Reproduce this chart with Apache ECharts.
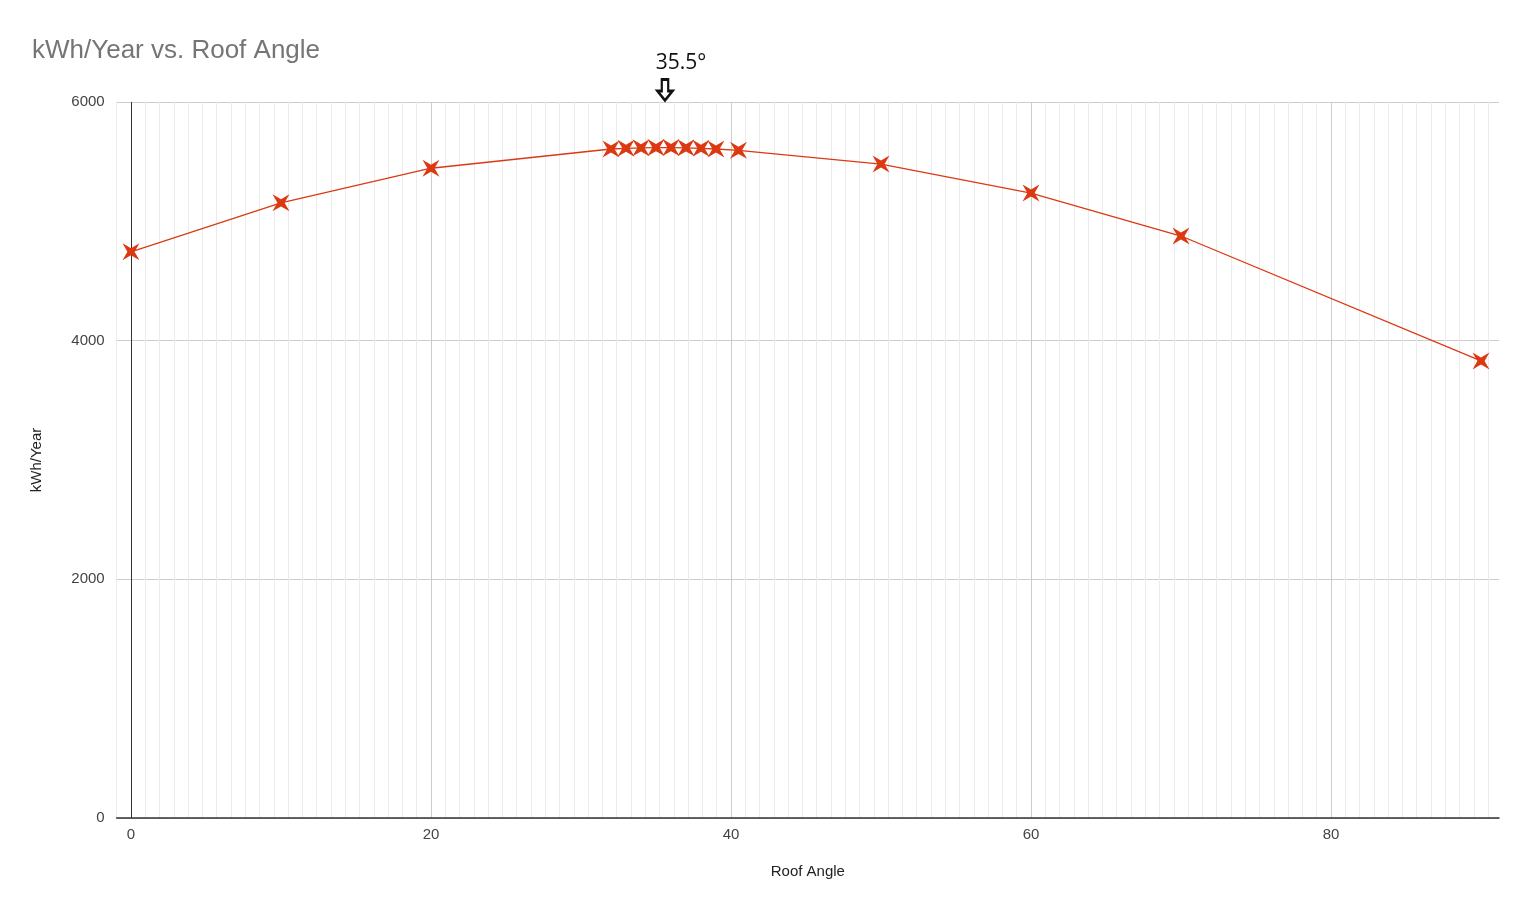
<!DOCTYPE html>
<html>
<head>
<meta charset="utf-8">
<script src="https://cdn.jsdelivr.net/npm/echarts@6/dist/echarts.min.js"></script>
<style>html,body{margin:0;padding:0;background:#fff;}#c{width:1536px;height:910px;}</style>
</head>
<body>
<div id="c"></div>
<script>
// Data
const roofAngle = [0, 10, 20, 32, 33, 34, 35, 36, 37, 38, 39, 40.5, 50, 60, 70, 90];
const kwhPerYear = [4745, 5155, 5445, 5606, 5612, 5616, 5618, 5618, 5616, 5612, 5606, 5595, 5480, 5237, 4877, 3830];
const yTicks = [0, 2000, 4000, 6000];
const xTickLabels = [0, 20, 40, 60, 80];
const annotX = [35.6];
const annotY = [6000];
const annotText = ['35.5°'];

// gridline scale: 21 minor steps per 20 degrees
const MINOR_PER_MAJOR = 21;
const DEG_PER_MAJOR = 20;
const uMin = -1, uMax = 95.76;
const xMin = uMin * DEG_PER_MAJOR / MINOR_PER_MAJOR;
const xMax = uMax * DEG_PER_MAJOR / MINOR_PER_MAJOR;

const lineColors = [];
for (let i = 0; i < 105; i++) {
  const u = i - 1;
  if (u === 0) lineColors.push('#333333');
  else if (u % MINOR_PER_MAJOR === 0) lineColors.push('#cccccc');
  else lineColors.push('#ebebeb');
}

const FONT = '"Liberation Sans", Arial, sans-serif';
const starPath = 'path://M0,0 L5,2.9 L10,0 L7.1,5 L10,10 L5,7.1 L0,10 L2.9,5 Z';
const arrowPath = 'path://M4,0 L10,0 L10,11 L14,11 L7,20 L0,11 L4,11 Z';

const chart = echarts.init(document.getElementById('c'));
chart.setOption({
  animation: false,
  backgroundColor: '#ffffff',
  title: {
    text: 'kWh/Year vs. Roof Angle',
    left: 32, top: 38, padding: 0,
    textStyle: { fontFamily: FONT, fontSize: 26, fontWeight: 'normal', color: '#757575' }
  },
  grid: { left: 116.7, right: 37, top: 102, bottom: 92, containLabel: false },
  xAxis: [
    {
      type: 'value', min: uMin, max: uMax, interval: 1,
      name: 'Roof Angle', nameLocation: 'middle', nameGap: 46,
      nameTextStyle: { fontFamily: FONT, fontSize: 15, color: '#222' },
      axisLine: { show: true, onZero: false, lineStyle: { color: '#333', width: 1.5 } },
      axisTick: { show: false },
      axisLabel: {
        interval: 0, margin: 9, fontFamily: FONT, fontSize: 15, color: '#444',
        formatter: function (v) {
          const r = Math.round(v);
          if (Math.abs(v - r) > 1e-6 || r % MINOR_PER_MAJOR !== 0) return '';
          const d = r * DEG_PER_MAJOR / MINOR_PER_MAJOR;
          return xTickLabels.indexOf(d) >= 0 ? String(d) : '';
        }
      },
      splitLine: { show: true, showMinLine: true, showMaxLine: false, lineStyle: { color: lineColors, width: 1 } }
    },
    {
      type: 'value', min: xMin, max: xMax, show: false,
      splitLine: { show: false }
    }
  ],
  yAxis: {
    type: 'value', min: yTicks[0], max: yTicks[yTicks.length - 1], interval: 2000,
    name: 'kWh/Year', nameLocation: 'middle', nameGap: 72,
    nameTextStyle: { fontFamily: FONT, fontSize: 15, color: '#222' },
    axisLine: { show: false },
    axisTick: { show: false },
    axisLabel: {
      margin: 12, fontFamily: FONT, fontSize: 15, color: '#444',
      formatter: function (v) { return yTicks.indexOf(v) >= 0 ? String(v) : ''; }
    },
    splitLine: { show: true, lineStyle: { color: '#cccccc', width: 1 } }
  },
  series: [
    {
      type: 'line',
      xAxisIndex: 1,
      data: roofAngle.map((x, i) => [x, kwhPerYear[i]]),
      showAllSymbol: true,
      symbol: starPath,
      symbolSize: 17,
      itemStyle: { color: '#dc3912' },
      lineStyle: { color: '#dc3912', width: 1.3 },
      z: 5,
      markPoint: {
        silent: true,
        data: annotX.map((x, i) => ({
          coord: [x, annotY[i]],
          symbol: arrowPath,
          symbolSize: [15, 21],
          symbolOffset: [0, -12],
          itemStyle: { color: '#ffffff', borderColor: '#111111', borderWidth: 2.6 },
          label: {
            show: true, formatter: annotText[i], position: 'top', distance: 4, offset: [16, 0],
            fontFamily: '"Open Sans", "Noto Sans", sans-serif', fontSize: 21, color: '#111'
          }
        }))
      }
    }
  ]
});
</script>
</body>
</html>
